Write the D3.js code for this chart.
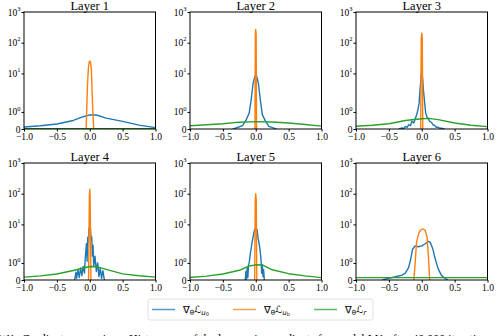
<!DOCTYPE html>
<html>
<head>
<meta charset="utf-8">
<script src="https://cdn.jsdelivr.net/npm/d3@7"></script>
<style>
  body { margin: 0; background: #fff; }
  svg text { font-family: "Liberation Serif", "Times New Roman", serif; }
  .legend text { font-family: "DejaVu Sans", sans-serif; }
</style>
</head>
<body>
<svg id="chart" width="500" height="336"></svg>
<script>
const W = 500, H = 336;
const PANEL_W = 131.5, PANEL_H = 117;
const COLS = [24, 190, 356];
const ROWS = [12, 163];

const COLORS = { blue: "#1f77b4", orange: "#ff7f0e", green: "#2ca02c" };

// tick values
const xTicks = [-1.0, -0.5, 0.0, 0.5, 1.0];
const yTicks = [0, 1, 10, 100, 1000];
const layerNames = ["Layer 1", "Layer 2", "Layer 3", "Layer 4", "Layer 5", "Layer 6"];

// series values: [x, density]
const layer1Blue = [[-1, 0.12], [-0.75, 0.19], [-0.5, 0.29], [-0.25, 0.5], [-0.1, 0.72], [0, 0.83], [0.1, 0.82], [0.25, 0.64], [0.5, 0.45], [0.75, 0.23], [1, 0.08]];
const layer1Orange = [[-0.055, 0], [-0.035, 4], [-0.02, 16], [-0.005, 25], [0.01, 24], [0.025, 14], [0.035, 3], [0.045, 1.2], [0.06, 0]];
const layer1Green = [[-1, 0.02], [-0.5, 0.02], [0, 0.02], [0.5, 0.02], [1, 0.02]];

const layer2Blue = [[-0.35, 0], [-0.3, 0.06], [-0.2, 0.2], [-0.15, 0.5], [-0.1, 0.93], [-0.07, 1.7], [-0.04, 4.8], [-0.01, 8.5], [0.01, 8.7], [0.04, 4.8], [0.07, 1.7], [0.1, 0.84], [0.15, 0.45], [0.2, 0.15], [0.3, 0.02], [0.32, 0]];
const layer2Orange = [[-0.012, 0], [-0.006, 180], [0, 270], [0.006, 180], [0.012, 0]];
const layer2Green = [[-1, 0.19], [-0.75, 0.25], [-0.5, 0.31], [-0.25, 0.4], [0, 0.43], [0.25, 0.41], [0.5, 0.35], [0.75, 0.26], [1, 0.17]];

const layer3Blue = [[-0.35, 0], [-0.3, 0.06], [-0.27, 0.02], [-0.25, 0.15], [-0.22, 0.1], [-0.2, 0.25], [-0.17, 0.2], [-0.15, 0.45], [-0.12, 0.35], [-0.1, 0.6], [-0.08, 0.8], [-0.06, 1.1], [-0.04, 1.5], [-0.03, 2.3], [-0.015, 6], [0, 14], [0.015, 6], [0.025, 3], [0.04, 1.7], [0.06, 0.93], [0.08, 0.7], [0.1, 0.6], [0.12, 0.45], [0.15, 0.38], [0.17, 0.25], [0.2, 0.2], [0.22, 0.1], [0.25, 0.1], [0.28, 0.04], [0.3, 0.05], [0.35, 0]];
const layer3Orange = [[-0.016, 0], [-0.008, 140], [0, 205], [0.008, 140], [0.016, 0]];
const layer3Green = [[-1, 0.16], [-0.75, 0.22], [-0.5, 0.31], [-0.25, 0.5], [0, 0.6], [0.1, 0.62], [0.25, 0.55], [0.5, 0.35], [0.75, 0.22], [1, 0.14]];

const layer4Blue = [[-0.23, 0], [-0.21, 0.45], [-0.2, 0.1], [-0.18, 0.6], [-0.16, 0.15], [-0.14, 0.7], [-0.12, 0.25], [-0.1, 0.8], [-0.08, 0.4], [-0.07, 1.2], [-0.05, 2.4], [-0.04, 1.1], [-0.03, 3.8], [-0.02, 2.6], [-0.01, 7.7], [0, 5.5], [0.01, 7.5], [0.02, 3.2], [0.03, 3.9], [0.04, 1.4], [0.05, 2.1], [0.06, 0.8], [0.08, 1.4], [0.1, 0.5], [0.12, 1.0], [0.14, 0.2], [0.16, 0.7], [0.18, 0.1], [0.2, 0.55], [0.22, 0.05], [0.23, 0]];
const layer4Orange = [[-0.018, 0], [-0.01, 12], [-0.005, 90], [0, 138], [0.005, 90], [0.01, 12], [0.018, 0]];
const layer4Green = [[-1, 0.17], [-0.75, 0.24], [-0.5, 0.35], [-0.25, 0.56], [0, 0.79], [0.1, 0.78], [0.25, 0.62], [0.5, 0.36], [0.75, 0.25], [1, 0.17]];

const layer5Blue = [[-0.16, 0], [-0.15, 0.5], [-0.14, 0.05], [-0.13, 0.7], [-0.12, 0.15], [-0.11, 0.9], [-0.1, 1.0], [-0.08, 1.6], [-0.06, 2.3], [-0.04, 4.0], [-0.02, 6.5], [0, 7.7], [0.02, 6.8], [0.035, 3.5], [0.05, 2.5], [0.065, 1.8], [0.08, 1.2], [0.09, 0.4], [0.1, 0.9], [0.11, 0.2], [0.12, 0.6], [0.13, 0]];
const layer5Orange = [[-0.016, 0], [-0.008, 60], [0, 100], [0.008, 60], [0.016, 0]];
const layer5Green = [[-1, 0.15], [-0.75, 0.23], [-0.5, 0.35], [-0.25, 0.57], [-0.1, 0.82], [0, 0.89], [0.1, 0.88], [0.25, 0.6], [0.5, 0.37], [0.75, 0.24], [1, 0.14]];

const layer6Blue = [[-0.6, 0], [-0.5, 0.1], [-0.4, 0.19], [-0.3, 0.29], [-0.25, 0.4], [-0.2, 0.73], [-0.17, 1.2], [-0.14, 1.8], [-0.1, 2.0], [-0.05, 1.95], [0, 2.0], [0.05, 2.3], [0.1, 2.8], [0.13, 2.6], [0.17, 1.8], [0.2, 1.3], [0.25, 0.65], [0.3, 0.27], [0.35, 0.1], [0.4, 0]];
const layer6Orange = [[-0.12, 0], [-0.1, 1.0], [-0.08, 2.5], [-0.05, 4.8], [-0.02, 6.5], [0.02, 7.1], [0.05, 6.5], [0.08, 4.0], [0.1, 1.5], [0.12, 0]];
const layer6Green = [[-1, 0.14], [-0.5, 0.14], [0, 0.14], [0.5, 0.14], [1, 0.14]];

const layers = [
  [layer1Blue, layer1Orange, layer1Green],
  [layer2Blue, layer2Orange, layer2Green],
  [layer3Blue, layer3Orange, layer3Green],
  [layer4Blue, layer4Orange, layer4Green],
  [layer5Blue, layer5Orange, layer5Green],
  [layer6Blue, layer6Orange, layer6Green]
];

// symlog transform (linthresh 2, linscale 1, base 10)
const LINTHRESH = 2, LINSCALE = 1 / (1 - 1 / 10);
function symlog(v) {
  return v <= LINTHRESH ? v * LINSCALE : LINTHRESH * (LINSCALE + Math.log10(v / LINTHRESH));
}

const svg = d3.select("#chart");

layers.forEach((series, i) => {
  const left = COLS[i % 3], top = ROWS[Math.floor(i / 3)];
  const g = svg.append("g").attr("transform", `translate(${left}, ${top})`);

  const x = d3.scaleLinear().domain([-1, 1]).range([0, PANEL_W]);
  const y = d3.scaleLinear().domain([0, symlog(1000)]).range([PANEL_H, 0]);

  const clipId = "clip" + i;
  g.append("clipPath").attr("id", clipId)
    .append("rect").attr("width", PANEL_W).attr("height", PANEL_H);

  const line = d3.line()
    .x(d => x(d[0]))
    .y(d => y(symlog(d[1])));

  const order = [COLORS.blue, COLORS.orange, COLORS.green];
  series.forEach((data, k) => {
    g.append("path")
      .attr("clip-path", `url(#${clipId})`)
      .attr("fill", "none")
      .attr("stroke", order[k])
      .attr("stroke-width", 1.4)
      .attr("stroke-linejoin", "round")
      .attr("d", line(data));
  });

  // frame
  g.append("rect")
    .attr("width", PANEL_W).attr("height", PANEL_H)
    .attr("fill", "none").attr("stroke", "#000").attr("stroke-width", 1);

  // x axis
  const xAxis = g.append("g")
    .attr("transform", `translate(0, ${PANEL_H})`)
    .call(d3.axisBottom(x).tickValues(xTicks).tickFormat(d3.format(".1f")).tickSize(2.5).tickPadding(1.8));
  xAxis.select(".domain").remove();
  xAxis.selectAll("text").attr("font-size", 9.5).attr("font-family", null);

  // y axis
  const yAxis = g.append("g")
    .call(d3.axisLeft(y).tickValues(yTicks.map(symlog)).tickFormat("").tickSize(2.5));
  yAxis.select(".domain").remove();
  yAxis.selectAll(".tick").each(function(d, j) {
    const t = d3.select(this).append("text")
      .attr("x", -3.5).attr("dy", "0.32em")
      .attr("text-anchor", "end")
      .attr("font-size", 9.5)
      .attr("fill", "#000");
    if (yTicks[j] === 0) {
      t.text("0");
    } else {
      t.append("tspan").text("10");
      t.append("tspan").attr("font-size", 6.5).attr("dy", "-0.75em")
        .text(String(Math.round(Math.log10(yTicks[j]))));
    }
  });

  // title
  g.append("text")
    .attr("x", PANEL_W / 2).attr("y", -2.5)
    .attr("text-anchor", "middle")
    .attr("font-size", 12.5)
    .text(layerNames[i]);
});

// legend
const legend = svg.append("g").attr("class", "legend");
legend.append("rect")
  .attr("x", 148).attr("y", 299).attr("width", 225).attr("height", 21)
  .attr("rx", 2).attr("fill", "#fff").attr("stroke", "#d8d8d8").attr("stroke-width", 0.8);

const legendItems = [
  { color: COLORS.blue, x: 152, sub: "0" },
  { color: COLORS.orange, x: 233, sub: "b" },
  { color: COLORS.green, x: 314, sub: null }
];
legendItems.forEach(item => {
  legend.append("line")
    .attr("x1", item.x).attr("x2", item.x + 23)
    .attr("y1", 309.5).attr("y2", 309.5)
    .attr("stroke", item.color).attr("stroke-width", 1.5).attr("opacity", 0.75);
  const t = legend.append("text")
    .attr("x", item.x + 31).attr("y", 313)
    .attr("font-size", 10).attr("fill", "#000");
  t.append("tspan").text("∇");
  t.append("tspan").attr("font-size", 7).attr("dy", 2).text("θ");
  t.append("tspan").attr("dy", -2).attr("font-style", "italic").text("ℒ");
  if (item.sub) {
    t.append("tspan").attr("font-size", 7).attr("dy", 2).attr("font-style", "italic").text("u");
    t.append("tspan").attr("font-size", 5).attr("dy", 1).text(item.sub);
  } else {
    t.append("tspan").attr("font-size", 7).attr("dy", 2).attr("font-style", "italic").text("r");
  }
});

// caption (cut off at the bottom edge)
svg.append("text")
  .attr("x", -2).attr("y", 343)
  .attr("font-size", 12)
  .text("W1: Gradient comparison: Histograms of the layer-wise gradients for model M1 after 40,000 iterations");
</script>
</body>
</html>
